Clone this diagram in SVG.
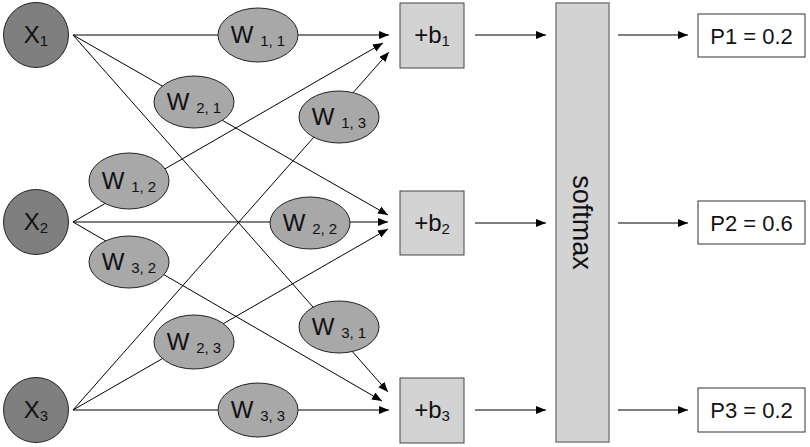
<svg xmlns="http://www.w3.org/2000/svg" width="810" height="447" viewBox="0 0 810 447">
<defs>
<marker id="ah" markerUnits="userSpaceOnUse" markerWidth="11" markerHeight="9" refX="10" refY="4" orient="auto">
<path d="M0,0 L10,4 L0,8 z" fill="#000"/>
</marker>
<style>
.c{stroke:#000;stroke-width:1;fill:none;marker-end:url(#ah)}
.x{fill:#7f7f7f;stroke:#222;stroke-width:1}
.w{fill:#a8a8a8;stroke:#222;stroke-width:1}
.b{fill:#d3d3d3;stroke:#444;stroke-width:1}
.s{fill:#d3d3d4;stroke:#7f7f7f;stroke-width:1.5}
.p{fill:#fff;stroke:#333;stroke-width:1}
text{font-family:"Liberation Sans",Arial,sans-serif;fill:#111}
.t{font-size:24px;text-anchor:middle}
.sub{font-size:15px}
.pt{font-size:22px;text-anchor:middle}
.sm{font-size:27px;text-anchor:middle}
</style>
</defs>
<rect width="810" height="447" fill="#fff"/>
<g id="connectors">
<line class="c" x1="73" y1="35" x2="389" y2="35"/>
<line class="c" x1="73" y1="35" x2="388" y2="215"/>
<line class="c" x1="73" y1="35" x2="388" y2="392"/>
<line class="c" x1="73" y1="222" x2="383" y2="43"/>
<line class="c" x1="73" y1="222" x2="388" y2="222"/>
<line class="c" x1="73" y1="222" x2="382" y2="401"/>
<line class="c" x1="73" y1="410" x2="389" y2="52"/>
<line class="c" x1="73" y1="410" x2="388" y2="229"/>
<line class="c" x1="73" y1="410" x2="389" y2="410"/>
<line class="c" x1="475" y1="35" x2="546" y2="35"/>
<line class="c" x1="475" y1="223" x2="546" y2="223"/>
<line class="c" x1="475" y1="410" x2="546" y2="410"/>
<line class="c" x1="618" y1="35" x2="688" y2="35"/>
<line class="c" x1="618" y1="223" x2="688" y2="223"/>
<line class="c" x1="618" y1="410" x2="688" y2="410"/>
</g>
<g id="X1"><circle class="x" cx="36" cy="35" r="32.5"/><text class="t" x="36" y="43">X<tspan class="sub" dy="3">1</tspan></text></g>
<g id="X2"><circle class="x" cx="36" cy="222" r="32.5"/><text class="t" x="36" y="230">X<tspan class="sub" dy="3">2</tspan></text></g>
<g id="X3"><circle class="x" cx="36" cy="410" r="32.5"/><text class="t" x="36" y="418">X<tspan class="sub" dy="3">3</tspan></text></g>
<g id="W11"><ellipse class="w" cx="258" cy="35" rx="40" ry="27"/><text class="t" x="258" y="43">W <tspan class="sub" dy="3">1, 1</tspan></text></g>
<g id="W21"><ellipse class="w" cx="194" cy="102" rx="40" ry="26"/><text class="t" x="194" y="110">W <tspan class="sub" dy="3">2, 1</tspan></text></g>
<g id="W13"><ellipse class="w" cx="339" cy="117" rx="40" ry="26"/><text class="t" x="339" y="125">W <tspan class="sub" dy="3">1, 3</tspan></text></g>
<g id="W12"><ellipse class="w" cx="129" cy="181" rx="40" ry="28"/><text class="t" x="129" y="189">W <tspan class="sub" dy="3">1, 2</tspan></text></g>
<g id="W22"><ellipse class="w" cx="310" cy="223" rx="40" ry="26"/><text class="t" x="310" y="231">W <tspan class="sub" dy="3">2, 2</tspan></text></g>
<g id="W32"><ellipse class="w" cx="129" cy="262" rx="40" ry="26"/><text class="t" x="129" y="270">W <tspan class="sub" dy="3">3, 2</tspan></text></g>
<g id="W31"><ellipse class="w" cx="339" cy="327" rx="40" ry="26"/><text class="t" x="339" y="335">W <tspan class="sub" dy="3">3, 1</tspan></text></g>
<g id="W23"><ellipse class="w" cx="194" cy="342" rx="40" ry="27"/><text class="t" x="194" y="350">W <tspan class="sub" dy="3">2, 3</tspan></text></g>
<g id="W33"><ellipse class="w" cx="258" cy="410" rx="40" ry="27"/><text class="t" x="258" y="418">W <tspan class="sub" dy="3">3, 3</tspan></text></g>
<g id="B1"><rect class="b" x="400" y="3" width="64" height="65"/><text class="t" x="432" y="43">+b<tspan class="sub" dy="3">1</tspan></text></g>
<g id="B2"><rect class="b" x="400" y="191" width="64" height="64"/><text class="t" x="432" y="231">+b<tspan class="sub" dy="3">2</tspan></text></g>
<g id="B3"><rect class="b" x="400" y="378" width="64" height="65"/><text class="t" x="432" y="418">+b<tspan class="sub" dy="3">3</tspan></text></g>
<g id="softmax"><rect class="s" x="556" y="3" width="53" height="439"/><text class="sm" transform="translate(573,222.5) rotate(90)">softmax</text></g>
<g id="P1"><rect class="p" x="698" y="14" width="107" height="43"/><text class="pt" x="751.5" y="44">P1 = 0.2</text></g>
<g id="P2"><rect class="p" x="698" y="201" width="107" height="43"/><text class="pt" x="751.5" y="231">P2 = 0.6</text></g>
<g id="P3"><rect class="p" x="698" y="388" width="107" height="44"/><text class="pt" x="751.5" y="418">P3 = 0.2</text></g>
</svg>
